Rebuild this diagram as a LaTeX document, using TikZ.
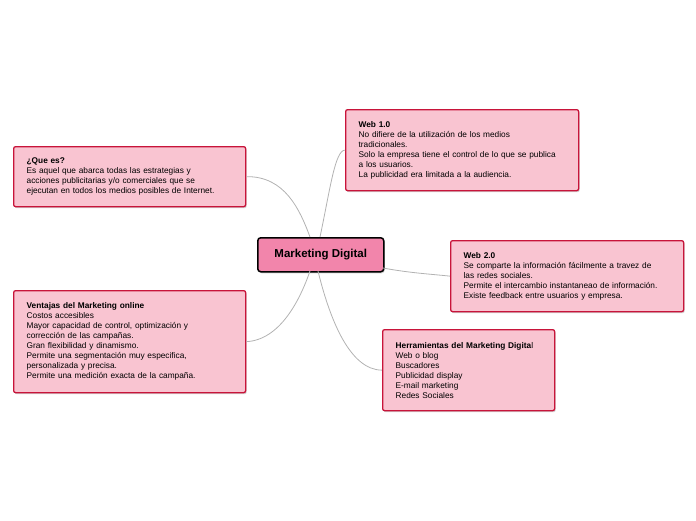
\documentclass[tikz,border=0pt]{standalone}
\usepackage{fontspec}
\setmainfont{Liberation Sans}
\usetikzlibrary{shadows}
\definecolor{bord}{HTML}{C8143A}
\definecolor{pfill}{HTML}{F9C4D1}
\definecolor{cfill}{HTML}{F285AB}
\begin{document}
\begin{tikzpicture}[x=1pt,y=-1pt,
 topic/.style={draw=bord,line width=1.3pt,fill=pfill,rounded corners=2pt,anchor=north west,
   align=left,inner xsep=13pt,inner ysep=4pt,font=\fontsize{8.3}{10}\selectfont,
   drop shadow={shadow xshift=1pt,shadow yshift=-1.5pt,fill=black!35}},
 link/.style={draw=black!30,line width=0.8pt}]
\useasboundingbox (0,0) rectangle (696,520);
\node[draw=black,line width=1.5pt,fill=cfill,rounded corners=3pt,minimum width=126pt,minimum height=34pt,
  font=\bfseries\fontsize{11.5}{13}\selectfont,anchor=north west,
  drop shadow={shadow xshift=1pt,shadow yshift=-1.5pt,fill=black!35}] (c) at (257,237) {Marketing Digital};
\node[topic,minimum width=232pt,minimum height=60pt,text width=206pt] (q) at (13,146)
 {\textbf{¿Que es?}\\Es aquel que abarca todas las estrategias y\\acciones publicitarias y/o comerciales que se\\ejecutan en todos los medios posibles de Internet.};
\node[topic,minimum width=233pt,minimum height=81pt,text width=207pt] (w1) at (345,109)
 {\textbf{Web 1.0}\\No difiere de la utilización de los medios\\tradicionales.\\Solo la empresa tiene el control de lo que se publica\\a los usuarios.\\La publicidad era limitada a la audiencia.};
\node[topic,minimum width=233pt,minimum height=71pt,text width=207pt] (w2) at (450,240)
 {\textbf{Web 2.0}\\Se comparte la información fácilmente a travez de\\las redes sociales.\\Permite el intercambio instantaneao de información.\\Existe feedback entre usuarios y empresa.};
\node[topic,minimum width=232pt,minimum height=102pt,text width=206pt] (v) at (13,290)
 {\textbf{Ventajas del Marketing online}\\*Costos accesibles\\*Mayor capacidad de control, optimización y\\corrección de las campañas.\\*Gran flexibilidad y dinamismo.\\*Permite una segmentación muy especifica,\\personalizada y precisa.\\*Permite una medición exacta de la campaña.};
\node[topic,minimum width=172pt,minimum height=81pt,text width=146pt] (h) at (382,329)
 {\textbf{Herramientas del Marketing Digita}l\\*Web o blog\\*Buscadores\\*Publicidad display\\*E-mail marketing\\*Redes Sociales};
\draw[link] (q.east) .. controls (285,176) and (300,210) .. (310,237);
\draw[link] (320,237) .. controls (330,190) and (335,150) .. (w1.west);
\draw[link] (383,268) .. controls (410,273) and (430,274) .. (w2.west);
\draw[link] (v.east) .. controls (280,340) and (300,300) .. (310,271);
\draw[link] (318,271) .. controls (330,320) and (350,370) .. (h.west);
\end{tikzpicture}
\end{document}
